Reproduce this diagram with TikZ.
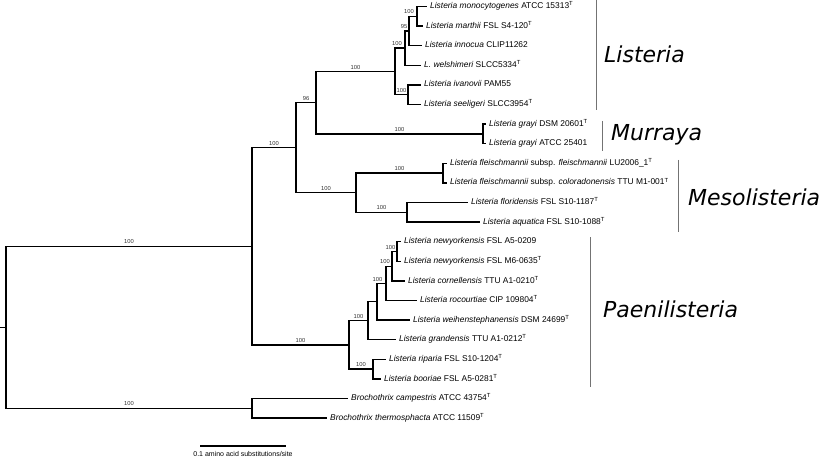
\documentclass[tikz,border=0pt]{standalone}
\usepackage{fontspec}
\setmainfont{Liberation Sans}
\newfontfamily\cladefont{DejaVu Sans}
\newcommand{\bootdraw}[4][]{%
  \draw[branch] (#2) |- node[boot, #1] {#4} (#3);
}
\usetikzlibrary{positioning}

\begin{document}
\begin{tikzpicture}[x=1pt, y=-1pt]

\tikzset{
  branch/.style={
    draw,
    line width=1.4pt
  },
  boot/.style={
    pos=0.75,
    above,
    inner sep=1.6pt,
    text=black!80,
    font=\fontsize{5.8}{6}\selectfont
  },
  leaf/.style={
    anchor=west,
    inner xsep=3pt,
    inner ysep=0pt,
    text height=6pt,
    text depth=1.8pt,
    font=\fontsize{8.4}{10}\selectfont
  },
  cladebar/.style={
    draw=black!55,
    line width=0.9pt
  },
  cladename/.style={
    anchor=base west,
    inner sep=0pt,
    font=\cladefont\itshape\fontsize{22}{26}\selectfont
  }
}

\useasboundingbox (0,0) rectangle (821,457);

% NODES ----------------------------------------------------------

% Leaves: Listeria sensu stricto
\node[leaf] (mono)     at (427,   6.5) {\textit{Listeria monocytogenes} ATCC 15313\textsuperscript{T}};
\node[leaf] (marthii)  at (423,  26.1) {\textit{Listeria marthii} FSL S4-120\textsuperscript{T}};
\node[leaf] (innocua)  at (422,  45.7) {\textit{Listeria innocua} CLIP11262};
\node[leaf] (welsh)    at (421,  65.3) {\textit{L. welshimeri} SLCC5334\textsuperscript{T}};
\node[leaf] (ivanovii) at (421,  84.9) {\textit{Listeria ivanovii} PAM55};
\node[leaf] (seelig)   at (421, 104.5) {\textit{Listeria seeligeri} SLCC3954\textsuperscript{T}};

% Leaves: Murraya
\node[leaf] (grayiD)   at (486, 124.1) {\textit{Listeria grayi} DSM 20601\textsuperscript{T}};
\node[leaf] (grayiA)   at (486, 143.7) {\textit{Listeria grayi} ATCC 25401};

% Leaves: Mesolisteria
\node[leaf] (fleisch)  at (447, 163.3) {\textit{Listeria fleischmannii} subsp. \textit{fleischmannii} LU2006\_1\textsuperscript{T}};
\node[leaf] (colorad)  at (447, 182.9) {\textit{Listeria fleischmannii} subsp. \textit{coloradonensis} TTU M1-001\textsuperscript{T}};
\node[leaf] (florid)   at (468, 202.5) {\textit{Listeria floridensis} FSL S10-1187\textsuperscript{T}};
\node[leaf] (aquat)    at (480, 222.1) {\textit{Listeria aquatica} FSL S10-1088\textsuperscript{T}};

% Leaves: Paenilisteria
\node[leaf] (newyA)    at (401, 241.7) {\textit{Listeria newyorkensis} FSL A5-0209};
\node[leaf] (newyM)    at (401, 261.3) {\textit{Listeria newyorkensis} FSL M6-0635\textsuperscript{T}};
\node[leaf] (cornell)  at (405, 280.9) {\textit{Listeria cornellensis} TTU A1-0210\textsuperscript{T}};
\node[leaf] (rocour)   at (417, 300.5) {\textit{Listeria rocourtiae} CIP 109804\textsuperscript{T}};
\node[leaf] (weihen)   at (410, 320.1) {\textit{Listeria weihenstephanensis} DSM 24699\textsuperscript{T}};
\node[leaf] (grand)    at (396, 339.7) {\textit{Listeria grandensis} TTU A1-0212\textsuperscript{T}};
\node[leaf] (ripar)    at (386, 359.3) {\textit{Listeria riparia} FSL S10-1204\textsuperscript{T}};
\node[leaf] (boori)    at (381, 378.9) {\textit{Listeria booriae} FSL A5-0281\textsuperscript{T}};

% Leaves: outgroup
\node[leaf] (campes)   at (348, 398.5) {\textit{Brochothrix campestris} ATCC 43754\textsuperscript{T}};
\node[leaf] (thermo)   at (327, 418.1) {\textit{Brochothrix thermosphacta} ATCC 11509\textsuperscript{T}};

% Internal nodes of the tree
\coordinate (nMono) at (417,  16.3);
\coordinate (nInn)  at (409,  31.0);
\coordinate (nWel)  at (405,  48.2);
\coordinate (nIva)  at (408,  94.7);
\coordinate (nLis)  at (395,  71.4);
\coordinate (nMur)  at (483, 133.9);
\coordinate (nLM)   at (316, 102.7);
\coordinate (nFle)  at (443, 173.1);
\coordinate (nFlo)  at (407, 212.3);
\coordinate (nMes)  at (356, 192.7);
\coordinate (nLMM)  at (296, 147.7);
\coordinate (nN5)   at (397, 251.5);
\coordinate (nN4)   at (392, 266.2);
\coordinate (nN3)   at (386, 283.4);
\coordinate (nN2)   at (377, 301.7);
\coordinate (nN1)   at (368, 320.7);
\coordinate (nRip)  at (373, 369.1);
\coordinate (nPae)  at (349, 344.9);
\coordinate (nIng)  at (252, 246.3);
\coordinate (nBro)  at (252, 408.3);
\coordinate (nRoot) at (6,   327.3);
\coordinate (stub)  at (0,   327.3);

% Genus names + bars
\node[cladename] (gLis) at (604,  63) {Listeria};
\node[cladename] (gMur) at (611, 141) {Murraya};
\node[cladename] (gMes) at (688, 205) {Mesolisteria};
\node[cladename] (gPae) at (603, 317) {Paenilisteria};

% Scale bar ends
\coordinate (sbL) at (200, 446);
\coordinate (sbR) at (286, 446);

% DRAWS ---------------------------------------------------------

% Draws internal branches + bootstrap values
\bootdraw[xshift=-4pt]{nInn}{nMono}{100}
\bootdraw[xshift=-3pt]{nWel}{nInn}{95}
\bootdraw[xshift=-3pt]{nLis}{nWel}{100}
\bootdraw{nLis}{nIva}{100}
\bootdraw{nLM}{nLis}{100}
\bootdraw{nLMM}{nLM}{96}
\bootdraw{nLM}{nMur}{100}
\bootdraw{nMes}{nFle}{100}
\bootdraw{nMes}{nFlo}{100}
\bootdraw{nLMM}{nMes}{100}
\bootdraw{nIng}{nLMM}{100}
\bootdraw[xshift=-4pt]{nN4}{nN5}{100}
\bootdraw[xshift=-4pt]{nN3}{nN4}{100}
\bootdraw[xshift=-4pt]{nN2}{nN3}{100}
\draw[branch] (nN1) |- (nN2);
\bootdraw{nPae}{nN1}{100}
\bootdraw{nPae}{nRip}{100}
\bootdraw{nIng}{nPae}{100}
\bootdraw{nRoot}{nIng}{100}
\bootdraw{nRoot}{nBro}{100}
\draw[branch] (stub) -- (nRoot);

% Draws terminal branches
\draw[branch] (nMono) |- (mono.west);
\draw[branch] (nMono) |- (marthii.west);
\draw[branch] (nInn)  |- (innocua.west);
\draw[branch] (nWel)  |- (welsh.west);
\draw[branch] (nIva)  |- (ivanovii.west);
\draw[branch] (nIva)  |- (seelig.west);
\draw[branch] (nMur)  |- (grayiD.west);
\draw[branch] (nMur)  |- (grayiA.west);
\draw[branch] (nFle)  |- (fleisch.west);
\draw[branch] (nFle)  |- (colorad.west);
\draw[branch] (nFlo)  |- (florid.west);
\draw[branch] (nFlo)  |- (aquat.west);
\draw[branch] (nN5)   |- (newyA.west);
\draw[branch] (nN5)   |- (newyM.west);
\draw[branch] (nN4)   |- (cornell.west);
\draw[branch] (nN3)   |- (rocour.west);
\draw[branch] (nN2)   |- (weihen.west);
\draw[branch] (nN1)   |- (grand.west);
\draw[branch] (nRip)  |- (ripar.west);
\draw[branch] (nRip)  |- (boori.west);
\draw[branch] (nBro)  |- (campes.west);
\draw[branch] (nBro)  |- (thermo.west);

% Genus bars
\draw[cladebar] (596,   0) -- (596, 110);
\draw[cladebar] (602, 121) -- (602, 151);
\draw[cladebar] (678, 160) -- (678, 232);
\draw[cladebar] (590, 237) -- (590, 387);

% Scale bar
\draw[line width=1.3pt] (sbL) -- node[below=1.5pt, font=\fontsize{7}{8}\selectfont] {0.1 amino acid substitutions/site} (sbR);

\end{tikzpicture}
\end{document}
